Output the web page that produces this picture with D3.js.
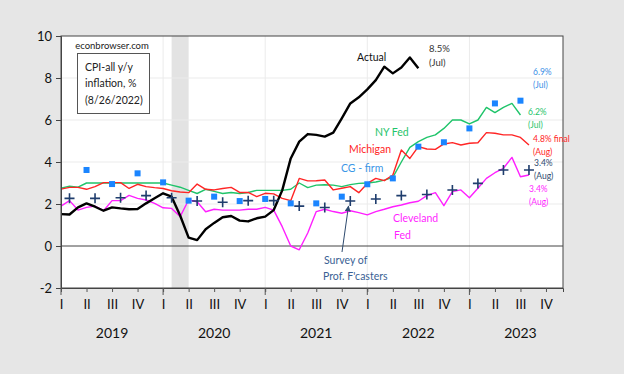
<!DOCTYPE html>
<html>
<head>
<meta charset="utf-8">
<script src="https://cdn.jsdelivr.net/npm/d3@7"></script>
<style>
html, body { margin: 0; padding: 0; background: #e6e6e6; }
svg { display: block; font-family: Lato, "Liberation Sans", sans-serif; }
</style>
</head>
<body>
<svg width="624" height="374"></svg>
<script>
(function() {
    "use strict";

    // month index 0 = Jan 2019; expectations are plotted at their target month
    var actual = [1.52, 1.5, 1.84, 2.03, 1.87, 1.68, 1.84, 1.79, 1.75, 1.76, 2.03, 2.27,
                  2.51, 2.35, 1.45, 0.4, 0.28, 0.8, 1.1, 1.37, 1.43, 1.21, 1.17, 1.32,
                  1.4, 1.71, 2.65, 4.17, 4.97, 5.33, 5.29, 5.21, 5.4, 6.08, 6.79, 7.08,
                  7.46, 7.9, 8.54, 8.22, 8.5, 8.98, 8.46];
    var nyFed = [2.75, 2.85, 2.8, 3.0, 3.0, 3.0, 3.0, 3.0, 3.0, 3.0, 3.0, 3.0,
                 3.0, 2.9, 2.8, 2.65, 2.5, 2.7, 2.6, 2.5, 2.55, 2.5, 2.55, 2.65,
                 2.65, 2.65, 2.65, 2.7, 3.0, 2.78, 2.9, 2.92, 2.9, 2.83, 2.92, 2.98,
                 3.0, 3.05, 3.14, 3.27, 4.0, 4.7, 4.97, 5.17, 5.29, 5.6, 6.0, 6.0,
                 5.81, 6.0, 6.6, 6.35, 6.6, 6.79, 6.24];
    var michigan = [2.71, 2.79, 2.79, 2.7, 2.83, 3.02, 3.02, 3.02, 2.74, 2.94, 2.83, 2.78,
                    2.74, 2.63, 2.57, 2.54, 2.95, 2.7, 2.67, 2.74, 2.79, 2.55, 2.55, 2.35,
                    2.51, 2.48, 2.27, 2.16, 3.22, 3.1, 3.11, 3.14, 2.67, 2.75, 2.83, 2.54,
                    2.98, 3.22, 3.11, 3.38, 4.57, 4.17, 4.73, 4.62, 4.6, 4.86, 4.92, 4.81,
                    4.89, 4.92, 5.4, 5.37, 5.29, 5.29, 5.17, 4.81];
    var cleveland = [1.9, 2.16, 1.71, 1.84, 1.9, 1.68, 2.16, 2.16, 2.41, 2.27, 2.19, 2.03,
                     1.82, 1.79, 1.4, 2.19, 2.11, 1.63, 1.75, 1.71, 1.71, 1.71, 1.75, 1.75,
                     1.84, 1.71, 0.92, 0.0, -0.18, 0.62, 1.64, 1.75, 1.64, 1.56, 1.68, 1.59,
                     1.48, 1.64, 1.75, 1.87, 1.95, 2.06, 2.13, 2.4, 2.54, 1.92, 2.59, 2.67,
                     2.3, 2.75, 3.22, 3.49, 3.7, 4.22, 3.3, 3.38];
    // quarterly: CG firms from Apr 2019, SPF from Feb 2019
    var cgFirm = [3.62, 2.95, 3.46, 3.03, 2.16, 2.35, 2.14, 2.24, 2.03, 2.03, 2.35, 2.94,
                  3.22, 4.73, 4.94, 5.6, 6.79, 6.92];
    var spf = [2.27, 2.27, 2.3, 2.4, 2.3, 2.14, 2.08, 2.16, 2.16, 1.9, 1.83, 2.14,
               2.24, 2.4, 2.45, 2.67, 2.98, 3.62, 3.62];

    var quarters = ["I", "II", "III", "IV"];
    var years = [2019, 2020, 2021, 2022, 2023];
    var yTicks = [-2, 0, 2, 4, 6, 8, 10];
    var recession = [13, 15];

    var svg = d3.select("svg");
    var left = 61, right = 563, top = 36, bottom = 288;

    var x = d3.scaleLinear().domain([0, 59]).range([left, right]);
    var y = d3.scaleLinear().domain([-2, 10]).range([bottom, top]);

    function series(vals, start, step) {
        return vals.map(function(v, i) { return {m: start + i * step, v: v}; });
    }

    // plot area
    svg.append("rect")
        .attr("x", left).attr("y", top)
        .attr("width", right - left).attr("height", bottom - top)
        .attr("fill", "#fff");

    svg.append("rect")
        .attr("x", x(recession[0])).attr("y", top)
        .attr("width", x(recession[1]) - x(recession[0]))
        .attr("height", bottom - top)
        .attr("fill", "#e3e3e3");

    // grid
    svg.selectAll("line.hgrid")
        .data([2, 4, 6, 8])
        .enter().append("line")
        .attr("class", "hgrid")
        .attr("x1", left).attr("x2", right)
        .attr("y1", function(d) { return y(d); })
        .attr("y2", function(d) { return y(d); })
        .attr("stroke", "#ebebeb");

    svg.selectAll("line.vgrid")
        .data(years.slice(1))
        .enter().append("line")
        .attr("class", "vgrid")
        .attr("x1", function(d) { return x((d - 2019) * 12); })
        .attr("x2", function(d) { return x((d - 2019) * 12); })
        .attr("y1", top).attr("y2", bottom)
        .attr("stroke", "#ebebeb");

    svg.append("line")
        .attr("x1", left).attr("x2", right)
        .attr("y1", y(0)).attr("y2", y(0))
        .attr("stroke", "#444");

    // lines
    var line = d3.line()
        .x(function(d) { return x(d.m); })
        .y(function(d) { return y(d.v); });

    var lines = [
        {data: series(nyFed, 0, 1), color: "#1fc46a", width: 1.4},
        {data: series(michigan, 0, 1), color: "#ff2525", width: 1.4},
        {data: series(cleveland, 0, 1), color: "#ff1fff", width: 1.4},
        {data: series(actual, 0, 1), color: "#000", width: 2.4}
    ];

    svg.selectAll("path.series")
        .data(lines)
        .enter().append("path")
        .attr("class", "series")
        .attr("d", function(d) { return line(d.data); })
        .attr("fill", "none")
        .attr("stroke", function(d) { return d.color; })
        .attr("stroke-width", function(d) { return d.width; })
        .attr("stroke-linejoin", "round");

    svg.selectAll("rect.cg")
        .data(series(cgFirm, 3, 3))
        .enter().append("rect")
        .attr("class", "cg")
        .attr("x", function(d) { return x(d.m) - 3; })
        .attr("y", function(d) { return y(d.v) - 3; })
        .attr("width", 6).attr("height", 6)
        .attr("fill", "#1a85ff");

    svg.selectAll("path.spf")
        .data(series(spf, 1, 3))
        .enter().append("path")
        .attr("class", "spf")
        .attr("transform", function(d) { return "translate(" + x(d.m) + "," + y(d.v) + ")"; })
        .attr("d", "M-5,0H5M0,-5V5")
        .attr("stroke", "#1f3d6d")
        .attr("stroke-width", 1.6);

    // frame
    svg.append("rect")
        .attr("x", left).attr("y", top)
        .attr("width", right - left).attr("height", bottom - top)
        .attr("fill", "none")
        .attr("stroke", "#444");

    // axes
    var yAxis = svg.append("g")
        .attr("transform", "translate(" + left + ",0)")
        .call(d3.axisLeft(y).tickValues(yTicks).tickSize(5).tickPadding(4)
            .tickFormat(function(d) { return String(d); }));
    yAxis.select(".domain").attr("stroke", "#444");
    yAxis.selectAll("line").attr("stroke", "#444");
    yAxis.selectAll("text").attr("font-size", 13).attr("fill", "#111")
        .attr("font-family", "Lato");

    var qTicks = d3.range(0, 60, 3);
    var xAxis = svg.append("g")
        .attr("transform", "translate(0," + bottom + ")")
        .call(d3.axisBottom(x).tickValues(qTicks).tickSize(4).tickPadding(8)
            .tickFormat(function(d) { return quarters[(d / 3) % 4]; }));
    xAxis.select(".domain").attr("stroke", "#444");
    xAxis.selectAll("line").attr("stroke", "#555");
    xAxis.selectAll("text").attr("font-size", 13).attr("fill", "#111")
        .attr("font-family", "Lato");

    svg.selectAll("line.ytick")
        .data(years)
        .enter().append("line")
        .attr("class", "ytick")
        .attr("x1", function(d) { return x((d - 2019) * 12); })
        .attr("x2", function(d) { return x((d - 2019) * 12); })
        .attr("y1", bottom).attr("y2", bottom + 7)
        .attr("stroke", "#555");

    svg.selectAll("text.year")
        .data(years)
        .enter().append("text")
        .attr("class", "year")
        .attr("x", function(d) { return x((d - 2019) * 12 + 6); })
        .attr("y", 338)
        .attr("text-anchor", "middle")
        .attr("font-size", 14)
        .attr("fill", "#111")
        .text(function(d) { return d; });

    // title box
    svg.append("rect")
        .attr("x", 77.5).attr("y", 53.5)
        .attr("width", 72).attr("height", 60)
        .attr("fill", "#fff")
        .attr("stroke", "#555");

    var labels = [
        {t: "econbrowser.com", x: 112, y: 45.5, c: "#222", s: 9.5, a: "middle"},
        {t: "CPI-all y/y", x: 85, y: 67, c: "#222", s: 10.5},
        {t: "inflation, %", x: 85, y: 83.5, c: "#222", s: 10.5},
        {t: "(8/26/2022)", x: 85, y: 100, c: "#222", s: 10.5},
        {t: "Actual", x: 357, y: 57.5, c: "#111", s: 10.5},
        {t: "8.5%", x: 429, y: 48.5, c: "#333", s: 9.5},
        {t: "(Jul)", x: 429, y: 63, c: "#333", s: 9.5},
        {t: "6.9%", x: 533, y: 72, c: "#3b8fe6", s: 8.5},
        {t: "(Jul)", x: 533, y: 85, c: "#3b8fe6", s: 8.5},
        {t: "6.2%", x: 528, y: 112, c: "#1fc46a", s: 8.5},
        {t: "(Jul)", x: 528, y: 125.5, c: "#1fc46a", s: 8.5},
        {t: "4.8% final", x: 533, y: 139.5, c: "#ff2525", s: 8.5},
        {t: "(Aug)", x: 533, y: 152.5, c: "#ff2525", s: 8.5},
        {t: "3.4%", x: 534, y: 163, c: "#2e4a6e", s: 8.5},
        {t: "(Aug)", x: 534, y: 176, c: "#2e4a6e", s: 8.5},
        {t: "3.4%", x: 529, y: 189, c: "#ff1fff", s: 8.5},
        {t: "(Aug)", x: 529, y: 202, c: "#ff1fff", s: 8.5},
        {t: "NY Fed", x: 375, y: 132, c: "#1fc46a", s: 10.5},
        {t: "Michigan", x: 349, y: 149, c: "#ff2525", s: 10.5},
        {t: "CG - firm", x: 341, y: 168, c: "#3b96e6", s: 10.5},
        {t: "Cleveland", x: 393, y: 218.5, c: "#ff1fff", s: 10.5},
        {t: "Fed", x: 394, y: 235, c: "#ff1fff", s: 10.5},
        {t: "Survey of", x: 324, y: 260, c: "#3a5f94", s: 10.5},
        {t: "Prof. F'casters", x: 323, y: 276, c: "#3a5f94", s: 10.5}
    ];

    svg.selectAll("text.label")
        .data(labels)
        .enter().append("text")
        .attr("class", "label")
        .attr("x", function(d) { return d.x; })
        .attr("y", function(d) { return d.y; })
        .attr("dy", "0.35em")
        .attr("text-anchor", function(d) { return d.a || "start"; })
        .attr("font-size", function(d) { return d.s; })
        .attr("fill", function(d) { return d.c; })
        .text(function(d) { return d.t; });

    // arrow to the SPF point
    svg.append("defs").append("marker")
        .attr("id", "arrow")
        .attr("viewBox", "0 0 10 10")
        .attr("refX", 9).attr("refY", 5)
        .attr("markerWidth", 6).attr("markerHeight", 6)
        .attr("orient", "auto")
        .append("path")
        .attr("d", "M0,0L10,5L0,10Z")
        .attr("fill", "#2e4a6e");

    svg.append("line")
        .attr("x1", 342).attr("y1", 252)
        .attr("x2", 348.5).attr("y2", 206)
        .attr("stroke", "#2e4a6e")
        .attr("stroke-width", 1)
        .attr("marker-end", "url(#arrow)");
})();
</script>
</body>
</html>
